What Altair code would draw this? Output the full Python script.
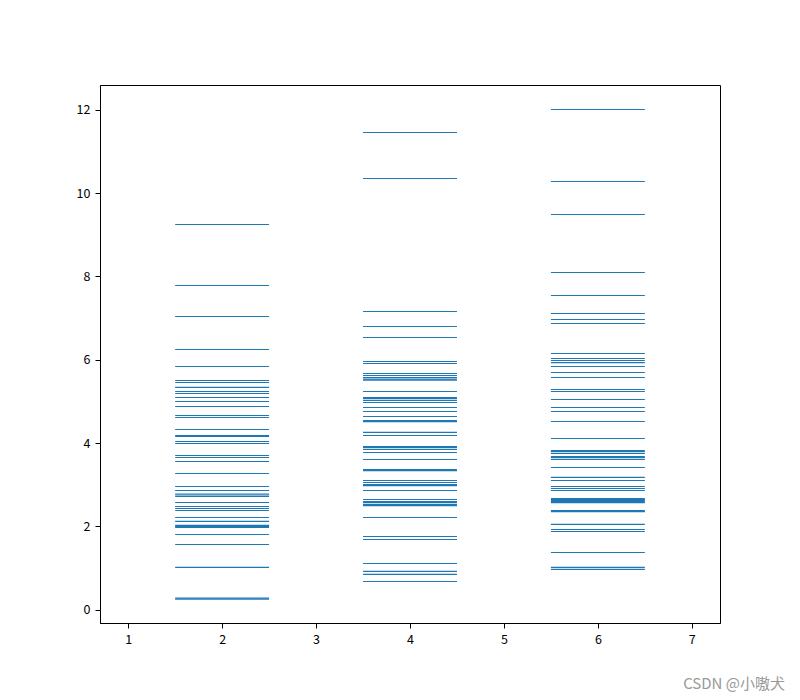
import altair as alt
import pandas as pd

# Event positions, one list per column
events_2 = [9.253, 7.788, 7.043, 6.250, 5.842, 5.506, 5.458, 5.338, 5.241, 5.193, 5.097, 5.001,
            4.881, 4.665, 4.617, 4.329, 4.184, 4.160, 4.040, 3.992, 3.704, 3.656, 3.560, 3.272,
            2.959, 2.863, 2.779, 2.755, 2.719, 2.575, 2.479, 2.431, 2.383, 2.215, 2.119, 2.023,
            1.999, 1.975, 1.806, 1.566, 1.014, 0.276, 0.252]
events_4 = [11.463, 10.358, 7.163, 6.803, 6.539, 5.962, 5.914, 5.674, 5.626, 5.578, 5.537, 5.513,
            5.241, 5.092, 5.068, 5.025, 4.977, 4.857, 4.761, 4.641, 4.540, 4.516, 4.257, 4.184,
            3.915, 3.891, 3.848, 3.776, 3.608, 3.363, 3.339, 3.103, 3.055, 3.003, 2.979, 2.863,
            2.647, 2.594, 2.570, 2.522, 2.498, 2.215, 1.758, 1.686, 1.110, 0.918, 0.846, 0.677]
events_6 = [12.015, 10.286, 9.493, 8.100, 7.547, 7.115, 6.971, 6.875, 6.154, 6.034, 5.986, 5.933,
            5.842, 5.698, 5.578, 5.289, 5.241, 5.049, 4.857, 4.761, 4.521, 4.112, 3.819, 3.795,
            3.752, 3.675, 3.651, 3.608, 3.416, 3.176, 3.103, 2.959, 2.911, 2.863, 2.666, 2.642,
            2.618, 2.594, 2.570, 2.378, 2.354, 2.047, 1.926, 1.878, 1.374, 1.014, 0.966]

x_ticks = [1, 2, 3, 4, 5, 6, 7]
y_ticks = [0, 2, 4, 6, 8, 10, 12]
FONT = "Noto Sans CJK SC"

rows = []
for pos, values in [(2, events_2), (4, events_4), (6, events_6)]:
    for v in values:
        rows.append({"pos": pos, "value": v})
df = pd.DataFrame(rows)

lines = alt.Chart(df).transform_calculate(
    start="datum.pos - 0.5", end="datum.pos + 0.5"
).mark_rule(color="#1f77b4", strokeWidth=1.2, yOffset=0.17).encode(
    x=alt.X("start:Q", title=None,
            scale=alt.Scale(domain=[0.70, 7.30], nice=False, zero=False),
            axis=alt.Axis(values=x_ticks, format="d")),
    x2="end:Q",
    y=alt.Y("value:Q", title=None,
            scale=alt.Scale(domain=[-0.324, 12.6], nice=False, zero=False),
            axis=alt.Axis(values=y_ticks, format="d")),
)

# CSDN watermark sits outside the axes, in the bottom right of the page
mark = alt.Chart(pd.DataFrame({"t": ["CSDN @小嗷犬"]})).mark_text(
    font=FONT, fontSize=15, color="#999999", align="right", baseline="middle"
).encode(x=alt.value(685), y=alt.value(598.5), text="t:N")

chart = alt.layer(lines, mark).properties(
    width=620,
    height=538,
    autosize=alt.AutoSizeParams(type="none"),
    padding={"left": 92, "top": 77, "right": 70, "bottom": 69},
    background="white",
).configure_view(stroke="black", strokeWidth=1).configure_axis(
    grid=False,
    domainColor="black",
    tickColor="black",
    tickSize=5,
    labelColor="black",
    labelFont=FONT,
    labelFontSize=12.5,
    labelPadding=5,
)

chart.save("out.html", embed_options={"renderer": "svg", "actions": False})
